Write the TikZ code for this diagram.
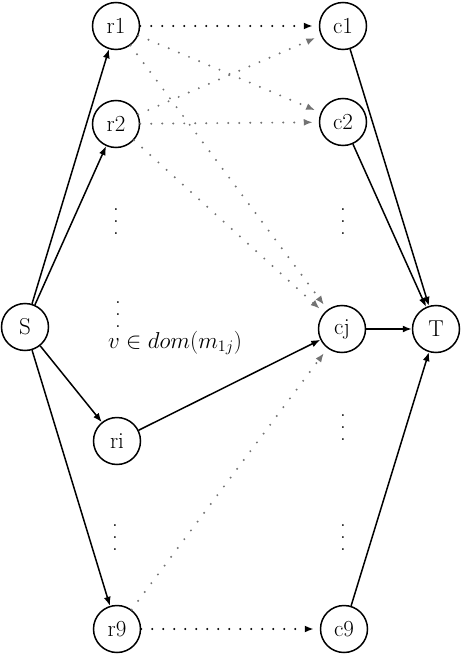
\RequirePackage{fix-cm}
\documentclass[tikz,border=0pt]{standalone}
\usetikzlibrary{arrows.meta}
\begin{document}
\begin{tikzpicture}[x=1pt,y=-1pt,
  vert/.style={circle,draw,line width=1.5pt,minimum size=47pt,inner sep=0pt,
    font=\fontsize{23}{27}\selectfont},
  sol/.style={line width=1.5pt,-{Latex[length=9pt,width=7pt]}},
  dotk/.style={line width=2.2pt,line cap=round,dash pattern=on 0pt off 11pt,
    shorten >=6pt,-{Latex[length=9pt,width=7pt]}},
  dotg/.style={dotk,draw=black!55},
  vdts/.style={inner sep=0pt,font=\fontsize{23}{27}\selectfont},
  lbl/.style={inner sep=0pt,font=\fontsize{23}{27}\selectfont}
]
\useasboundingbox (0,0) rectangle (474,668);
\newcommand{\myvd}{\vbox{\baselineskip=12pt\hbox{.}\hbox{.}\hbox{.}}}
% nodes
\node[vert] (S)  at (25,327)  {S};
\node[vert] (r1) at (116,26)  {r1};
\node[vert] (r2) at (116,124) {r2};
\node[vert] (ri) at (117,441) {ri};
\node[vert] (r9) at (117,629) {r9};
\node[vert] (c1) at (343,26)  {c1};
\node[vert] (c2) at (343,122) {c2};
\node[vert] (cj) at (342,329) {cj};
\node[vert] (c9) at (344,629) {c9};
\node[vert] (T)  at (436,329) {T};
% vertical dots
\node[vdts] (d1) at (116,222) {\myvd};
\node[vdts] (d2) at (118,315) {\myvd};
\node[vdts] (d3) at (115,538) {\myvd};
\node[vdts] (d4) at (343,222) {\myvd};
\node[vdts] (d5) at (343,428) {\myvd};
\node[vdts] (d6) at (343,538) {\myvd};
% label
\node[lbl] (lab) at (175,343) {$v \in dom(m_{1j})$};
% edges from S
\draw[sol] (S) -- (r1);
\draw[sol] (S) -- (r2);
\draw[sol] (S) -- (ri);
\draw[sol] (S) -- (r9);
% dotted edges
\draw[dotk] (r1) -- (c1);
\draw[dotk] (r9) -- (c9);
\draw[dotg] (r2) -- (c2);
\draw[dotg] (r1) -- (c2);
\draw[dotg] (r2) -- (c1);
\draw[dotg] (r1) -- (cj);
\draw[dotg] (r2) -- (cj);
\draw[dotg] (r9) -- (cj);
% solid edges
\draw[sol] (ri) -- (cj);
\draw[sol] (c1) -- (T);
\draw[sol] (c2) -- (T);
\draw[sol] (cj) -- (T);
\draw[sol] (c9) -- (T);
\end{tikzpicture}
\end{document}
